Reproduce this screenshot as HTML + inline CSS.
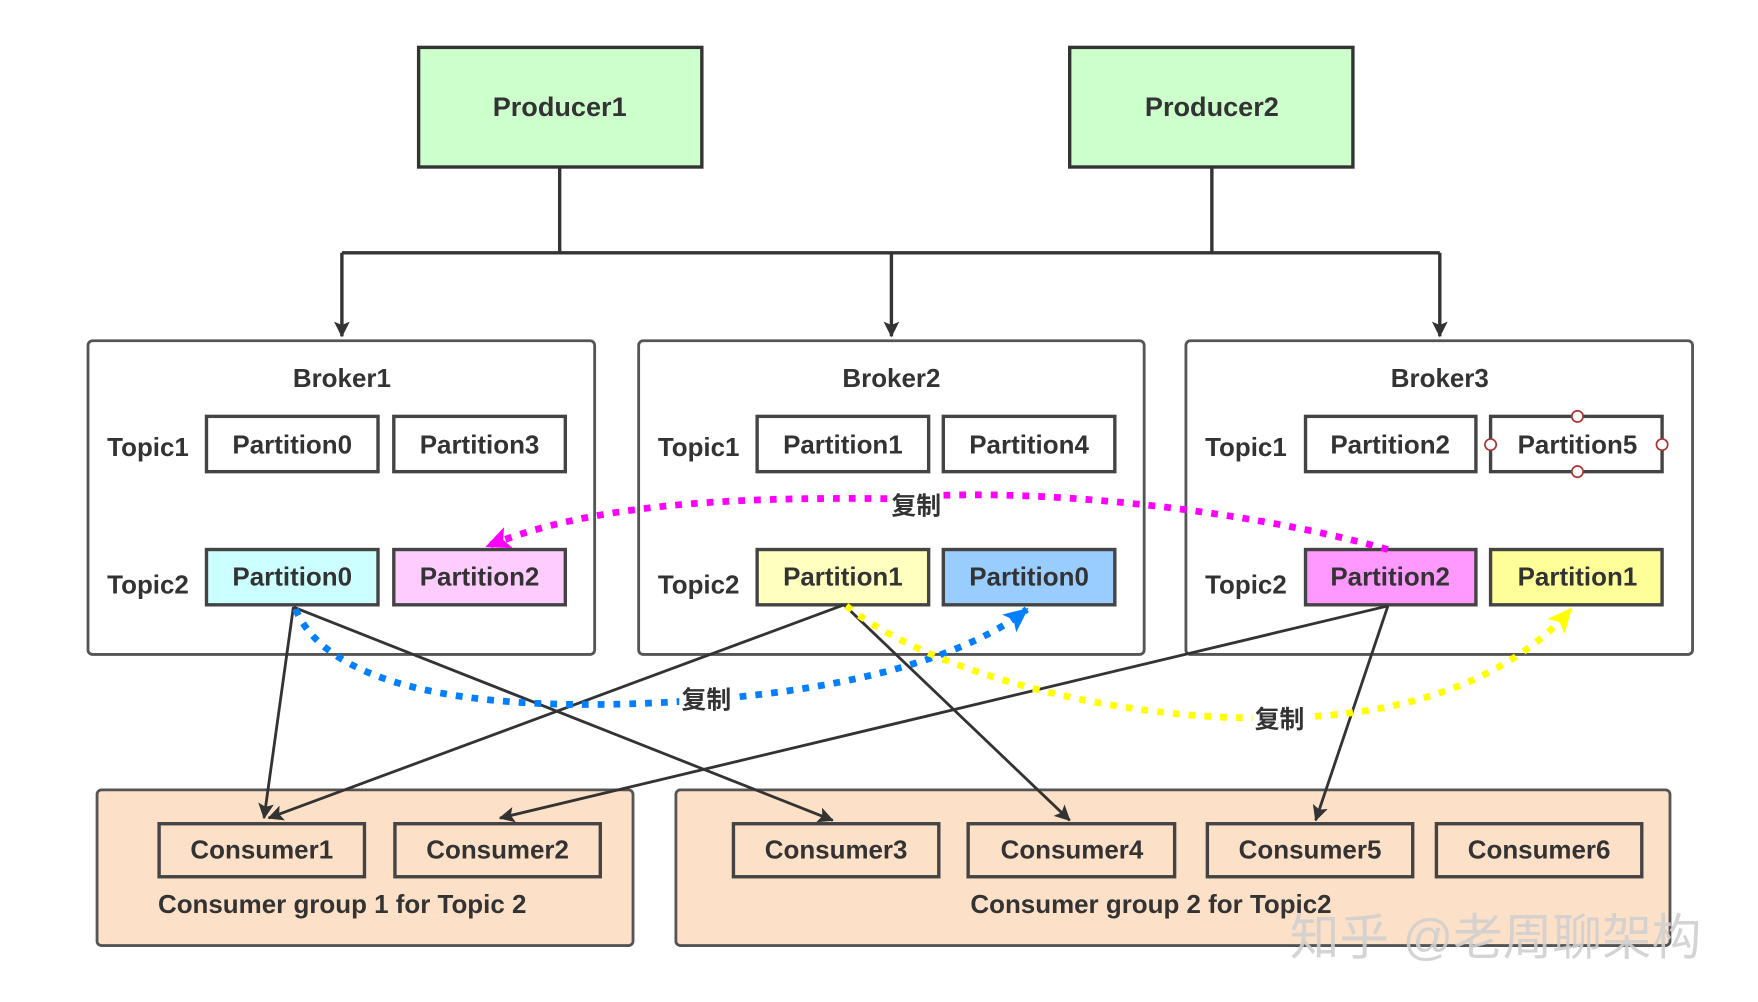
<!DOCTYPE html>
<html><head><meta charset="utf-8"><style>
html,body{margin:0;padding:0;background:#fff;}
svg{display:block;}
text{font-family:"Liberation Sans","Noto Sans CJK SC",sans-serif;font-weight:bold;fill:#333;}
</style></head><body>
<svg width="1758" height="1002" viewBox="0 0 1558 888" preserveAspectRatio="none" xmlns="http://www.w3.org/2000/svg">
<defs>
<marker id="ah" markerWidth="14" markerHeight="16" refX="13" refY="7" orient="auto" markerUnits="userSpaceOnUse"><path d="M0,0 L14,7 L0,14 L3,7 z" fill="#333"/></marker>
<marker id="am" markerWidth="24" markerHeight="20" refX="20" refY="10" orient="auto" markerUnits="userSpaceOnUse"><path d="M0,0 L22,10 L0,20 L5,10 z" fill="#ff00ff"/></marker>
<marker id="ab" markerWidth="24" markerHeight="20" refX="20" refY="10" orient="auto" markerUnits="userSpaceOnUse"><path d="M0,0 L22,10 L0,20 L5,10 z" fill="#0080ff"/></marker>
<marker id="ay" markerWidth="24" markerHeight="20" refX="20" refY="10" orient="auto" markerUnits="userSpaceOnUse"><path d="M0,0 L22,10 L0,20 L5,10 z" fill="#ffff00"/></marker>
</defs>
<g stroke="#333" stroke-width="3">
<rect x="371" y="42" width="251" height="106" fill="#ccffcc"/>
<rect x="948" y="42" width="251" height="106" fill="#ccffcc"/>
<path d="M496,148 V224 M1074,148 V224 M303,224 H1276" fill="none"/>
</g>
<g stroke="#333" stroke-width="3" fill="none" marker-end="url(#ah)">
<path d="M303,224 V298"/><path d="M790,224 V298"/><path d="M1276,224 V298"/>
</g>
<text x="496" y="103" font-size="24" text-anchor="middle">Producer1</text>
<text x="1074" y="103" font-size="24" text-anchor="middle">Producer2</text>
<g stroke="#555" stroke-width="2.5" fill="#fff">
<rect x="78" y="302" width="449" height="278" rx="4"/>
<rect x="566" y="302" width="448" height="278" rx="4"/>
<rect x="1051" y="302" width="449" height="278" rx="4"/>
</g>
<g stroke="#555" stroke-width="2.5">
<rect x="86" y="700" width="475" height="138" rx="4" fill="#fde0c8"/>
<rect x="599" y="700" width="881" height="138" rx="4" fill="#fde0c8"/>
</g>
<g font-size="23" text-anchor="middle">
<text x="303" y="343">Broker1</text><text x="790" y="343">Broker2</text><text x="1276" y="343">Broker3</text>
</g>
<g font-size="23">
<text x="95" y="404">Topic1</text><text x="95" y="526">Topic2</text>
<text x="583" y="404">Topic1</text><text x="583" y="526">Topic2</text>
<text x="1068" y="404">Topic1</text><text x="1068" y="526">Topic2</text>
</g>
<g stroke="#444" stroke-width="3">
<rect x="183" y="369" width="152" height="49" fill="#fff"/>
<rect x="349" y="369" width="152" height="49" fill="#fff"/>
<rect x="183" y="487" width="152" height="49" fill="#ccffff"/>
<rect x="349" y="487" width="152" height="49" fill="#ffccff"/>
<rect x="671" y="369" width="152" height="49" fill="#fff"/>
<rect x="836" y="369" width="152" height="49" fill="#fff"/>
<rect x="671" y="487" width="152" height="49" fill="#ffffc0"/>
<rect x="836" y="487" width="152" height="49" fill="#99ccff"/>
<rect x="1157" y="369" width="151" height="49" fill="#fff"/>
<rect x="1321" y="369" width="152" height="49" fill="#fff"/>
<rect x="1157" y="487" width="151" height="49" fill="#ff99ff"/>
<rect x="1321" y="487" width="152" height="49" fill="#ffff99"/>
<rect x="141" y="730" width="182" height="47" fill="#fde0c8"/>
<rect x="350" y="730" width="182" height="47" fill="#fde0c8"/>
<rect x="650" y="730" width="182" height="47" fill="#fde0c8"/>
<rect x="858" y="730" width="183" height="47" fill="#fde0c8"/>
<rect x="1070" y="730" width="182" height="47" fill="#fde0c8"/>
<rect x="1273" y="730" width="182" height="47" fill="#fde0c8"/>
</g>
<g fill="#fff" stroke="#a33" stroke-width="1.5">
<circle cx="1398" cy="369" r="5"/><circle cx="1398" cy="418" r="5"/><circle cx="1321" cy="394" r="5"/><circle cx="1473" cy="394" r="5"/>
</g>
<g font-size="23" text-anchor="middle">
<text x="259" y="402">Partition0</text><text x="425" y="402">Partition3</text>
<text x="259" y="519">Partition0</text><text x="425" y="519">Partition2</text>
<text x="747" y="402">Partition1</text><text x="912" y="402">Partition4</text>
<text x="747" y="519">Partition1</text><text x="912" y="519">Partition0</text>
<text x="1232" y="402">Partition2</text><text x="1398" y="402">Partition5</text>
<text x="1232" y="519">Partition2</text><text x="1398" y="519">Partition1</text>
<text x="232" y="761">Consumer1</text><text x="441" y="761">Consumer2</text>
<text x="741" y="761">Consumer3</text><text x="950" y="761">Consumer4</text>
<text x="1161" y="761">Consumer5</text><text x="1364" y="761">Consumer6</text>
</g>
<g font-size="23">
<text x="140" y="809">Consumer group 1 for Topic 2</text>
<text x="860" y="809">Consumer group 2 for Topic2</text>
</g>
<g stroke="#333" stroke-width="2.5" fill="none" marker-end="url(#ah)">
<path d="M260,538 L234,725"/><path d="M260,538 L738,727"/>
<path d="M748,536 L238,725"/><path d="M748,536 L948,727"/>
<path d="M1230,537 L443,725"/><path d="M1230,537 L1166,727"/>
</g>
<g fill="none" stroke-width="6" stroke-dasharray="6,8">
<path d="M1230,487 C1100,450 900,430 790,442 C640,440 520,448 432,484" stroke="#ff00ff" marker-end="url(#am)"/>
<path d="M262,540 C300,630 500,630 626,620 C760,610 860,580 910,540" stroke="#0080ff" marker-end="url(#ab)"/>
<path d="M750,537 C830,600 1000,640 1134,636 C1250,635 1340,600 1392,540" stroke="#ffff00" marker-end="url(#ay)"/>
</g>
<g font-size="22" text-anchor="middle">
<rect x="788" y="432" width="48" height="30" fill="#fff"/>
<text x="812" y="456">复制</text>
<rect x="602" y="604" width="48" height="30" fill="#fff"/>
<text x="626" y="628">复制</text>
<rect x="1110" y="622" width="48" height="30" fill="#fff"/>
<text x="1134" y="645">复制</text>
</g>
<text x="1143" y="846" font-size="44" style="fill:#d0d0d0;font-weight:normal" opacity="0.9">知乎 @老周聊架构</text>
</svg>
</body></html>
